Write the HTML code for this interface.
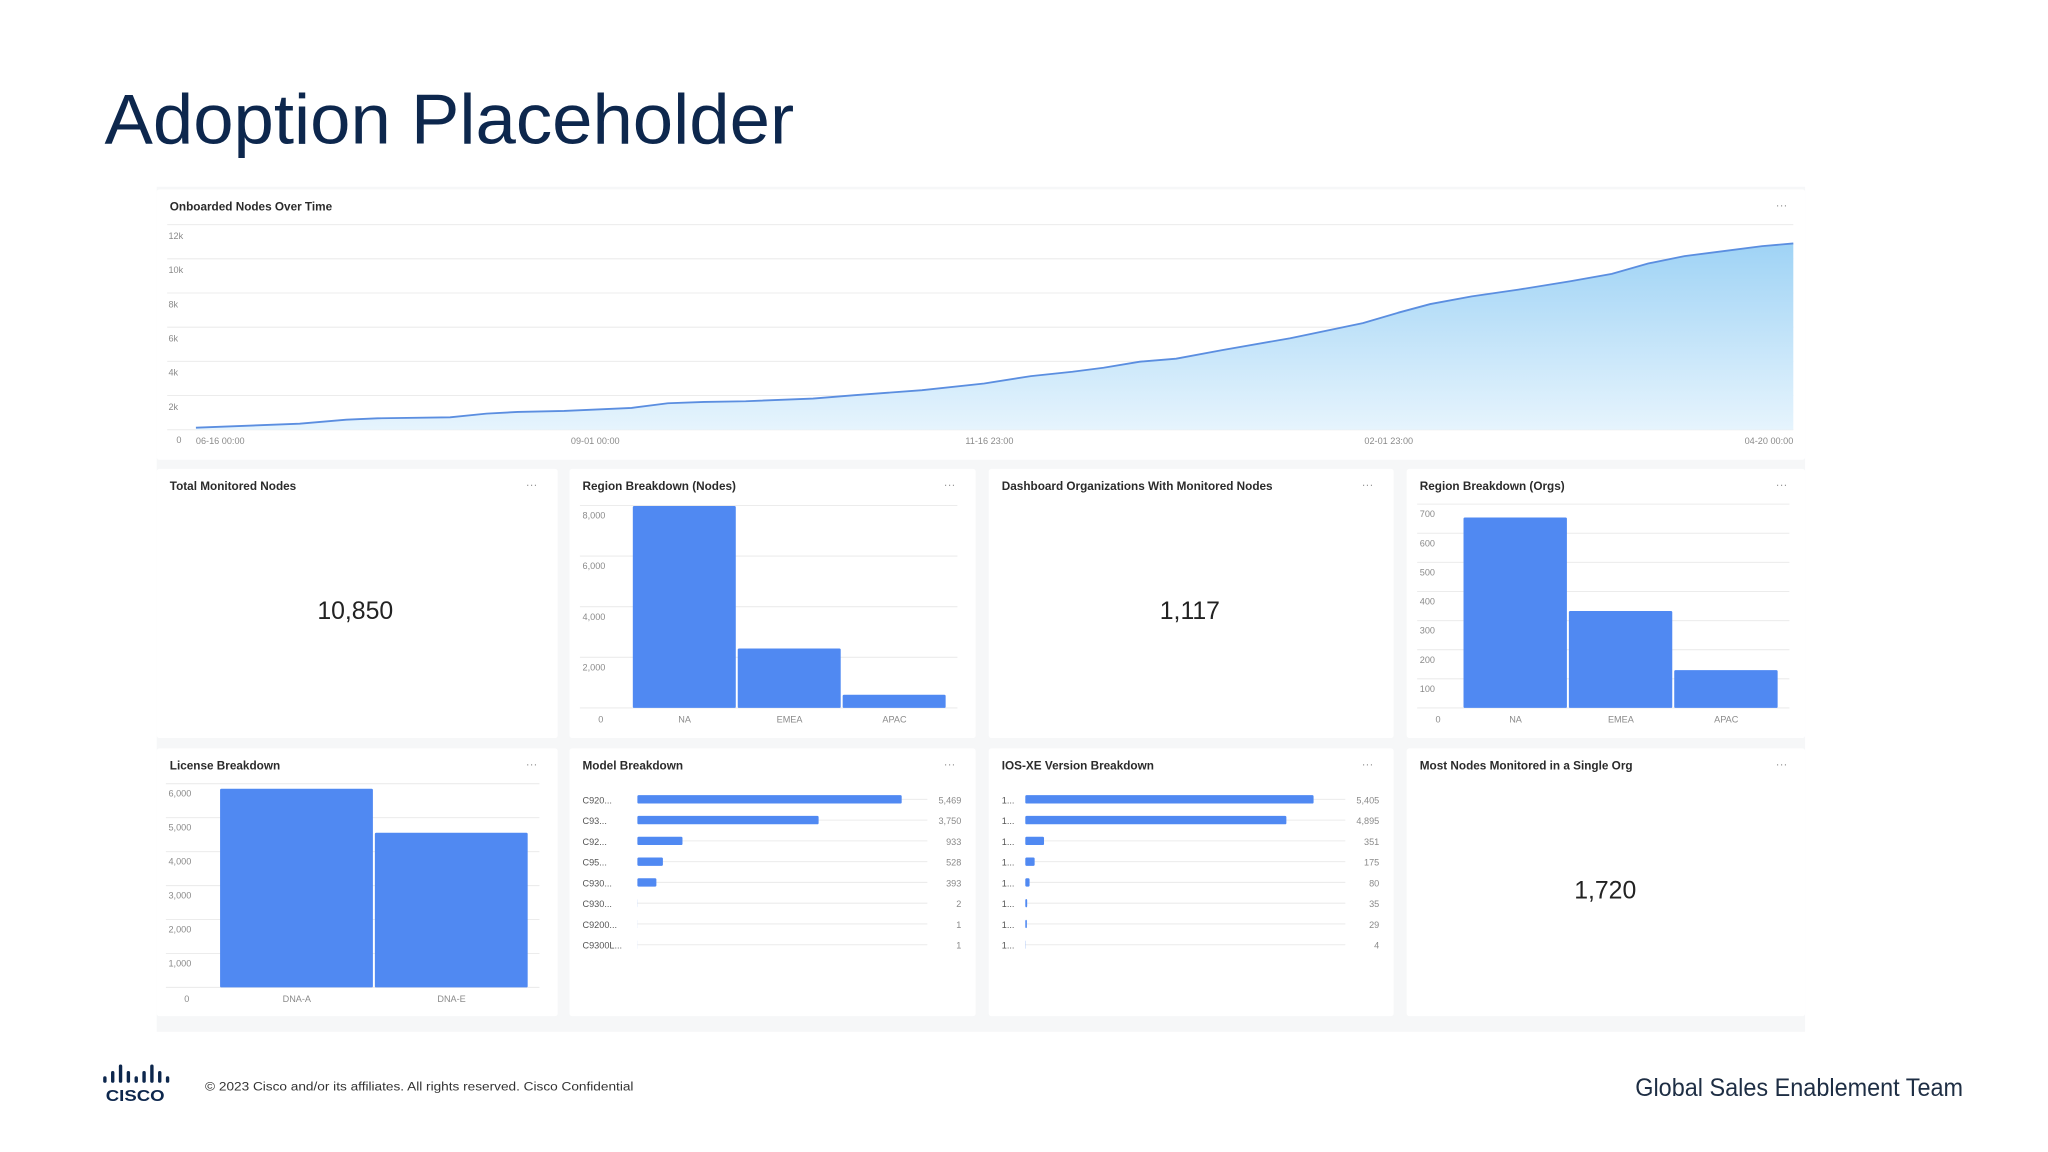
<!DOCTYPE html>
<html><head><meta charset="utf-8"><title>Adoption Placeholder</title>
<style>
html,body{margin:0;padding:0;background:#fff;width:2048px;height:1152px;overflow:hidden}
svg{display:block;font-family:"Liberation Sans",sans-serif}
.pt{font-size:9px;font-weight:bold;fill:#2b2b2b}
.ax{font-size:7px;fill:#8a8a8a}
.dots{font-size:9px;fill:#999}
.big{font-size:19px;fill:#222}
.grid{stroke:#ececec;stroke-width:0.8}
</style></head>
<body>
<svg id="root" width="2048" height="1152" viewBox="0 0 1568 882" xmlns="http://www.w3.org/2000/svg">
<defs>
<linearGradient id="areaGrad" x1="0" y1="0" x2="0" y2="1">
<stop offset="0" stop-color="#9fd3f5"/><stop offset="1" stop-color="#e6f4fd"/>
</linearGradient>
</defs>
<text x="80" y="110" font-size="54" fill="#0d274d" textLength="528" lengthAdjust="spacingAndGlyphs">Adoption Placeholder</text>

<rect x="120" y="143" width="1262" height="647" fill="#f6f7f8"/>
<g id="panels"></g>
<g id="charts"></g>

<g fill="#0d274d">
<rect x="79" y="824" width="2.6" height="5" rx="1.3"/>
<rect x="85" y="820" width="2.6" height="9" rx="1.3"/>
<rect x="91" y="815" width="2.6" height="14" rx="1.3"/>
<rect x="97" y="820" width="2.6" height="9" rx="1.3"/>
<rect x="103" y="824" width="2.6" height="5" rx="1.3"/>
<rect x="109" y="820" width="2.6" height="9" rx="1.3"/>
<rect x="115" y="815" width="2.6" height="14" rx="1.3"/>
<rect x="121" y="820" width="2.6" height="9" rx="1.3"/>
<rect x="127" y="824" width="2.6" height="5" rx="1.3"/>
<text x="81" y="843" font-size="12" font-weight="bold" textLength="45" lengthAdjust="spacingAndGlyphs">CISCO</text>
</g>
<text x="157" y="835" font-size="9" fill="#333" textLength="328" lengthAdjust="spacingAndGlyphs">© 2023  Cisco and/or its affiliates. All rights reserved.   Cisco Confidential</text>
<text x="1503" y="839" font-size="19" fill="#1e2e44" text-anchor="end" textLength="251" lengthAdjust="spacingAndGlyphs">Global Sales Enablement Team</text>
</svg>
<script>
// ---------- data ----------
const lineDays = [0,20,29,35,49,56,62,71,84,91,98,106,119,127,140,152,161,169,175,182,189,198,211,225,232,238,246,255,265,273,280,287,295,302,308];
const lineValues = [118,353,588,667,725,941,1039,1098,1275,1549,1627,1667,1824,2020,2314,2706,3137,3392,3627,3980,4157,4667,5353,6235,6863,7353,7804,8196,8686,9118,9725,10157,10471,10745,10900];
const lineYTicks = [0,2000,4000,6000,8000,10000,12000];
const lineYTickLabels = ["0","2k","4k","6k","8k","10k","12k"];
const lineXTickDays = [0,77,153,230,308];
const lineXTickLabels = ["06-16 00:00","09-01 00:00","11-16 23:00","02-01 23:00","04-20 00:00"];

const regionCats = ["NA","EMEA","APAC"];
const regionNodes = [7980,2350,520];
const regionNodeTicks = [0,2000,4000,6000,8000];
const regionNodeTickLabels = ["0","2,000","4,000","6,000","8,000"];
const regionOrgs = [654,333,130];
const regionOrgTicks = [0,100,200,300,400,500,600,700];
const regionOrgTickLabels = ["0","100","200","300","400","500","600","700"];

const licenseCats = ["DNA-A","DNA-E"];
const licenseValues = [5850,4553];
const licenseTicks = [0,1000,2000,3000,4000,5000,6000];
const licenseTickLabels = ["0","1,000","2,000","3,000","4,000","5,000","6,000"];

const modelCats = ["C920...","C93...","C92...","C95...","C930...","C930...","C9200...","C9300L..."];
const modelValues = [5469,3750,933,528,393,2,1,1];
const modelLabels = ["5,469","3,750","933","528","393","2","1","1"];
const iosCats = ["1...","1...","1...","1...","1...","1...","1...","1..."];
const iosValues = [5405,4895,351,175,80,35,29,4];
const iosLabels = ["5,405","4,895","351","175","80","35","29","4"];

const kpiTotal = "10,850";
const kpiOrgs = "1,117";
const kpiMax = "1,720";
// --------------------------
const NS="http://www.w3.org/2000/svg";
const panels=document.getElementById('panels');
const charts=document.getElementById('charts');
function mk(tag,attrs,parent,text){const e=document.createElementNS(NS,tag);for(const k in attrs)e.setAttribute(k,attrs[k]);if(text!==undefined)e.textContent=text;(parent||charts).appendChild(e);return e;}

function panel(name,x,y,w,h,title,dotsX){
  const g=mk('g',{},panels);
  
  
  mk('rect',{x:x,y:y,width:w,height:h,fill:'#fff',rx:2},g);
  const t=mk('text',{x:x+10,y:y+16,class:'pt'},g,title);
  
  
  const d=mk('text',{x:dotsX,y:y+15,class:'dots','text-anchor':'middle'},g,'···');
  
  
}
panel('onboarded-panel',120,145,1262,207,'Onboarded Nodes Over Time',1364);
panel('total-nodes-panel',120,359,307,206,'Total Monitored Nodes',407);
panel('region-nodes-panel',436,359,311,206,'Region Breakdown (Nodes)',727);
panel('orgs-panel',757,359,310,206,'Dashboard Organizations With Monitored Nodes',1047);
panel('region-orgs-panel',1077,359,305,206,'Region Breakdown (Orgs)',1364);
panel('license-panel',120,573,307,205,'License Breakdown',407);
panel('model-panel',436,573,311,205,'Model Breakdown',727);
panel('ios-panel',757,573,310,205,'IOS-XE Version Breakdown',1047);
panel('max-org-panel',1077,573,305,205,'Most Nodes Monitored in a Single Org',1364);

// KPIs
[[kpiTotal,272,474,'kpi-total-nodes'],[kpiOrgs,911,474,'kpi-organizations'],[kpiMax,1229,688,'kpi-max-nodes-org']].forEach(k=>{
  const t=mk('text',{x:k[1],y:k[2],class:'big','text-anchor':'middle'},charts,k[0]);
  
  
});

// Line chart
(function(){
  const x0=150,x1=1373,yb=329,yt=172,maxD=308,maxV=12000;
  const X=d=>x0+(x1-x0)*d/maxD, Y=v=>yb-(yb-yt)*v/maxV;
  lineYTicks.forEach((v,i)=>{
    const l=mk('line',{x1:128,x2:1373,y1:Y(v),y2:Y(v),class:'grid'});
    
    
    const t=mk('text',{x:i===0?137:129,y:i===0?Y(v)+10:Y(v)+11,class:'ax','text-anchor':i===0?'middle':'start'},charts,lineYTickLabels[i]);
    
    
  });
  let p='';lineDays.forEach((d,i)=>{p+=(i?'L':'M')+X(d)+','+Y(lineValues[i]);});
  const a=mk('path',{d:p+'L'+X(lineDays[lineDays.length-1])+','+yb+'L'+X(lineDays[0])+','+yb+'Z',fill:'url(#areaGrad)'});
  
  
  const ln=mk('path',{d:p,fill:'none',stroke:'#5b8ee0','stroke-width':1.4});
  
  
  lineXTickDays.forEach((d,i)=>{
    const anc=i===0?'start':(i===lineXTickDays.length-1?'end':'middle');
    const t=mk('text',{x:X(d),y:340,class:'ax','text-anchor':anc},charts,lineXTickLabels[i]);
    
    
  });
})();

// vertical bar chart
function vbar(name,cats,vals,ticks,tlabels,maxV,px0,px1,yb,yt,labX){
  const Y=v=>yb-(yb-yt)*v/maxV, bw=(px1-px0)/cats.length;
  ticks.forEach((v,i)=>{
    if(i>0){const l=mk('line',{x1:labX-2,x2:px1+8,y1:Y(v),y2:Y(v),class:'grid'});
    
    }
    const t=mk('text',{x:i===0?labX+14:labX,y:i===0?yb+11:Y(v)+10,class:'ax','text-anchor':i===0?'middle':'start'},charts,tlabels[i]);
    
    
  });
  mk('line',{x1:labX-2,x2:px1+8,y1:yb,y2:yb,class:'grid'});
  cats.forEach((c,i)=>{
    const r=mk('rect',{x:px0+i*bw+0.5,y:Y(vals[i]),width:bw-1.5,height:yb-Y(vals[i]),fill:'#5089f2',rx:1});
    
    
    const t=mk('text',{x:px0+(i+0.5)*bw,y:yb+11,class:'ax','text-anchor':'middle'},charts,c);
    
    
  });
}
vbar('region-nodes',regionCats,regionNodes,regionNodeTicks,regionNodeTickLabels,8000,484,725,542,387,446);
vbar('region-orgs',regionCats,regionOrgs,regionOrgTicks,regionOrgTickLabels,700,1120,1362,542,386,1087);
vbar('license',licenseCats,licenseValues,licenseTicks,licenseTickLabels,6000,168,405,756,600,129);

// horizontal bar lists
function hbar(name,cats,vals,labels,maxV,lx,bx0,bx1,vx,y0){
  const W=v=>(bx1-bx0)*v/maxV, step=15.9;
  cats.forEach((c,i)=>{
    const cy=y0+i*step;
    mk('line',{x1:bx0,x2:bx1,y1:cy,y2:cy,class:'grid'});
    const t=mk('text',{x:lx,y:cy+3,class:'ax',fill:'#555',style:'fill:#555'},charts,c);
    
    
    const w=Math.max(W(vals[i]),vals[i]>=10?1.2:0);
    if(w>0){const r=mk('rect',{x:bx0,y:cy-3.2,width:w,height:6.4,fill:'#5089f2',rx:1});
    
    }
    const v=mk('text',{x:vx,y:cy+3,class:'ax','text-anchor':'end'},charts,labels[i]);
    
    
  });
}
hbar('model',modelCats,modelValues,modelLabels,6000,446,488,710,736,612);
hbar('ios',iosCats,iosValues,iosLabels,6000,767,785,1030,1056,612);
</script>
</body></html>
